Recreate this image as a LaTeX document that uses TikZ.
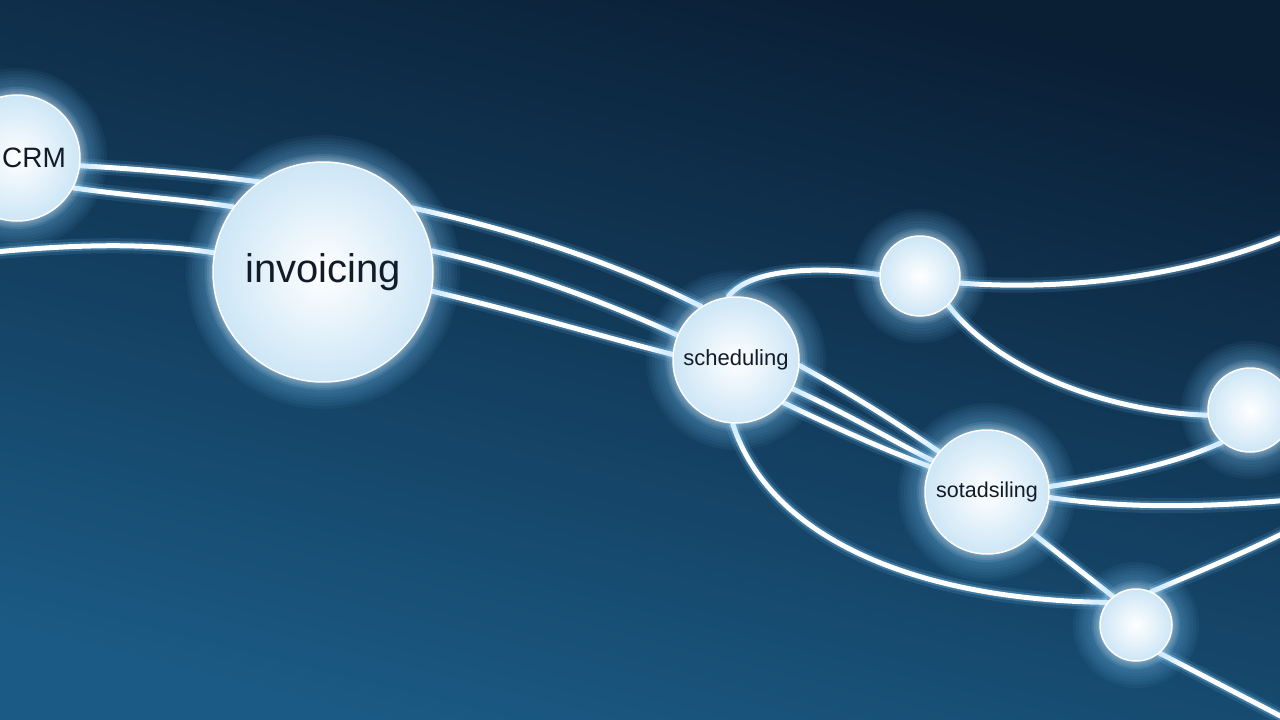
\documentclass[tikz,border=0pt]{standalone}
\usepackage{fontspec}
\setmainfont{Liberation Sans}
\usetikzlibrary{calc}
\pgfdeclarelayer{bg}
\pgfdeclarelayer{edges}
\pgfdeclarelayer{glow}
\pgfsetlayers{bg,edges,glow,main}
\definecolor{bgtop}{RGB}{10,30,52}
\definecolor{bgbot}{RGB}{27,90,132}
\definecolor{glowc}{RGB}{130,205,255}
\definecolor{rimc}{RGB}{205,230,246}
\definecolor{inkc}{RGB}{18,28,40}
\tikzset{
  ball/.style={circle, inner sep=0pt, draw=white, line width=1.5pt, shade,
    inner color=white, outer color=rimc, text=inkc},
  conn/.style={draw=white, line width=5pt, line cap=round,
    preaction={draw=glowc, line width=15pt, opacity=0.12},
    preaction={draw=glowc, line width=9pt, opacity=0.3}},
}
\begin{document}
\begin{tikzpicture}[x=1pt,y=-1pt]
\useasboundingbox (0,0) rectangle (1280,720);
\begin{pgfonlayer}{bg}
  \shade[top color=bgtop, bottom color=bgbot, shading angle=-14] (0,0) rectangle (1280,720);
\end{pgfonlayer}

% nodes
\node[ball, minimum size=126pt, font=\fontsize{28}{28}\selectfont] (crm) at (17,158) {\hspace*{34pt}CRM};
\node[ball, minimum size=220pt, font=\fontsize{40}{40}\selectfont] (inv) at (323,272) {invoicing};
\node[ball, minimum size=126pt, font=\fontsize{22}{22}\selectfont] (sch) at (736,360) {scheduling};
\node[ball, minimum size=80pt] (n1) at (920,276) {};
\node[ball, minimum size=84pt] (n2) at (1250,410) {};
\node[ball, minimum size=124pt, font=\fontsize{21.5}{21.5}\selectfont] (sot) at (987,492) {sotadsiling};
\node[ball, minimum size=72pt] (n3) at (1136,625) {};

\coordinate (eL) at (-5,252);
\coordinate (eR1) at (1290,234);
\coordinate (eR2) at (1290,500);
\coordinate (eR3) at (1290,530);
\coordinate (eR4) at (1292,722);

% node glow
\begin{pgfonlayer}{glow}
\foreach \n/\r in {crm/63,inv/110,sch/63,n1/40,n2/42,sot/62,n3/36}{
  \foreach \k in {3,6,...,27}{
    \pgfmathsetmacro\rr{\r+\k}
    \fill[glowc, opacity=0.055] (\n.center) circle (\rr pt);
  }
  \foreach \k in {2,4,6,8}{
    \pgfmathsetmacro\rr{\r+\k}
    \fill[white, opacity=0.08] (\n.center) circle (\rr pt);
  }
}
\end{pgfonlayer}

% connectors
\begin{pgfonlayer}{edges}
\draw[conn] (crm.-7) .. controls (300,178) and (520,215) .. (sch.123);
\draw[conn] (crm.-28) .. controls (130,196) and (190,200) .. (inv.144);
\draw[conn] (eL) .. controls (80,244) and (150,243) .. (inv.170);
\draw[conn] (inv.11) .. controls (520,270) and (600,300) .. (sch.157);
\draw[conn] (inv.-10) .. controls (520,312) and (600,336) .. (sch.175);
\draw[conn] (sch.97) .. controls (750,268) and (820,266) .. (n1.178);
\draw[conn] (sch.-5) .. controls (850,393) and (900,425) .. (sot.140);
\draw[conn] (sch.-27) .. controls (850,415) and (900,445) .. (sot.150);
\draw[conn] (sch.-42) .. controls (840,430) and (890,452) .. (sot.156);
\draw[conn] (sch.-93) .. controls (770,540) and (920,600) .. (n3.142);
\draw[conn] (n3.65) .. controls (1190,575) and (1240,555) .. (eR3);
\draw[conn] (sot.-42) -- (n3.129);
\draw[conn] (n3.-50) -- (eR4);
\draw[conn] (n1.-10) .. controls (1080,292) and (1200,272) .. (eR1);
\draw[conn] (n1.-46) .. controls (1000,372) and (1110,412) .. (n2.187);
\draw[conn] (sot.5) .. controls (1110,478) and (1180,462) .. (n2.229);
\draw[conn] (sot.-5) .. controls (1120,508) and (1200,508) .. (eR2);
\end{pgfonlayer}
\end{tikzpicture}
\end{document}
